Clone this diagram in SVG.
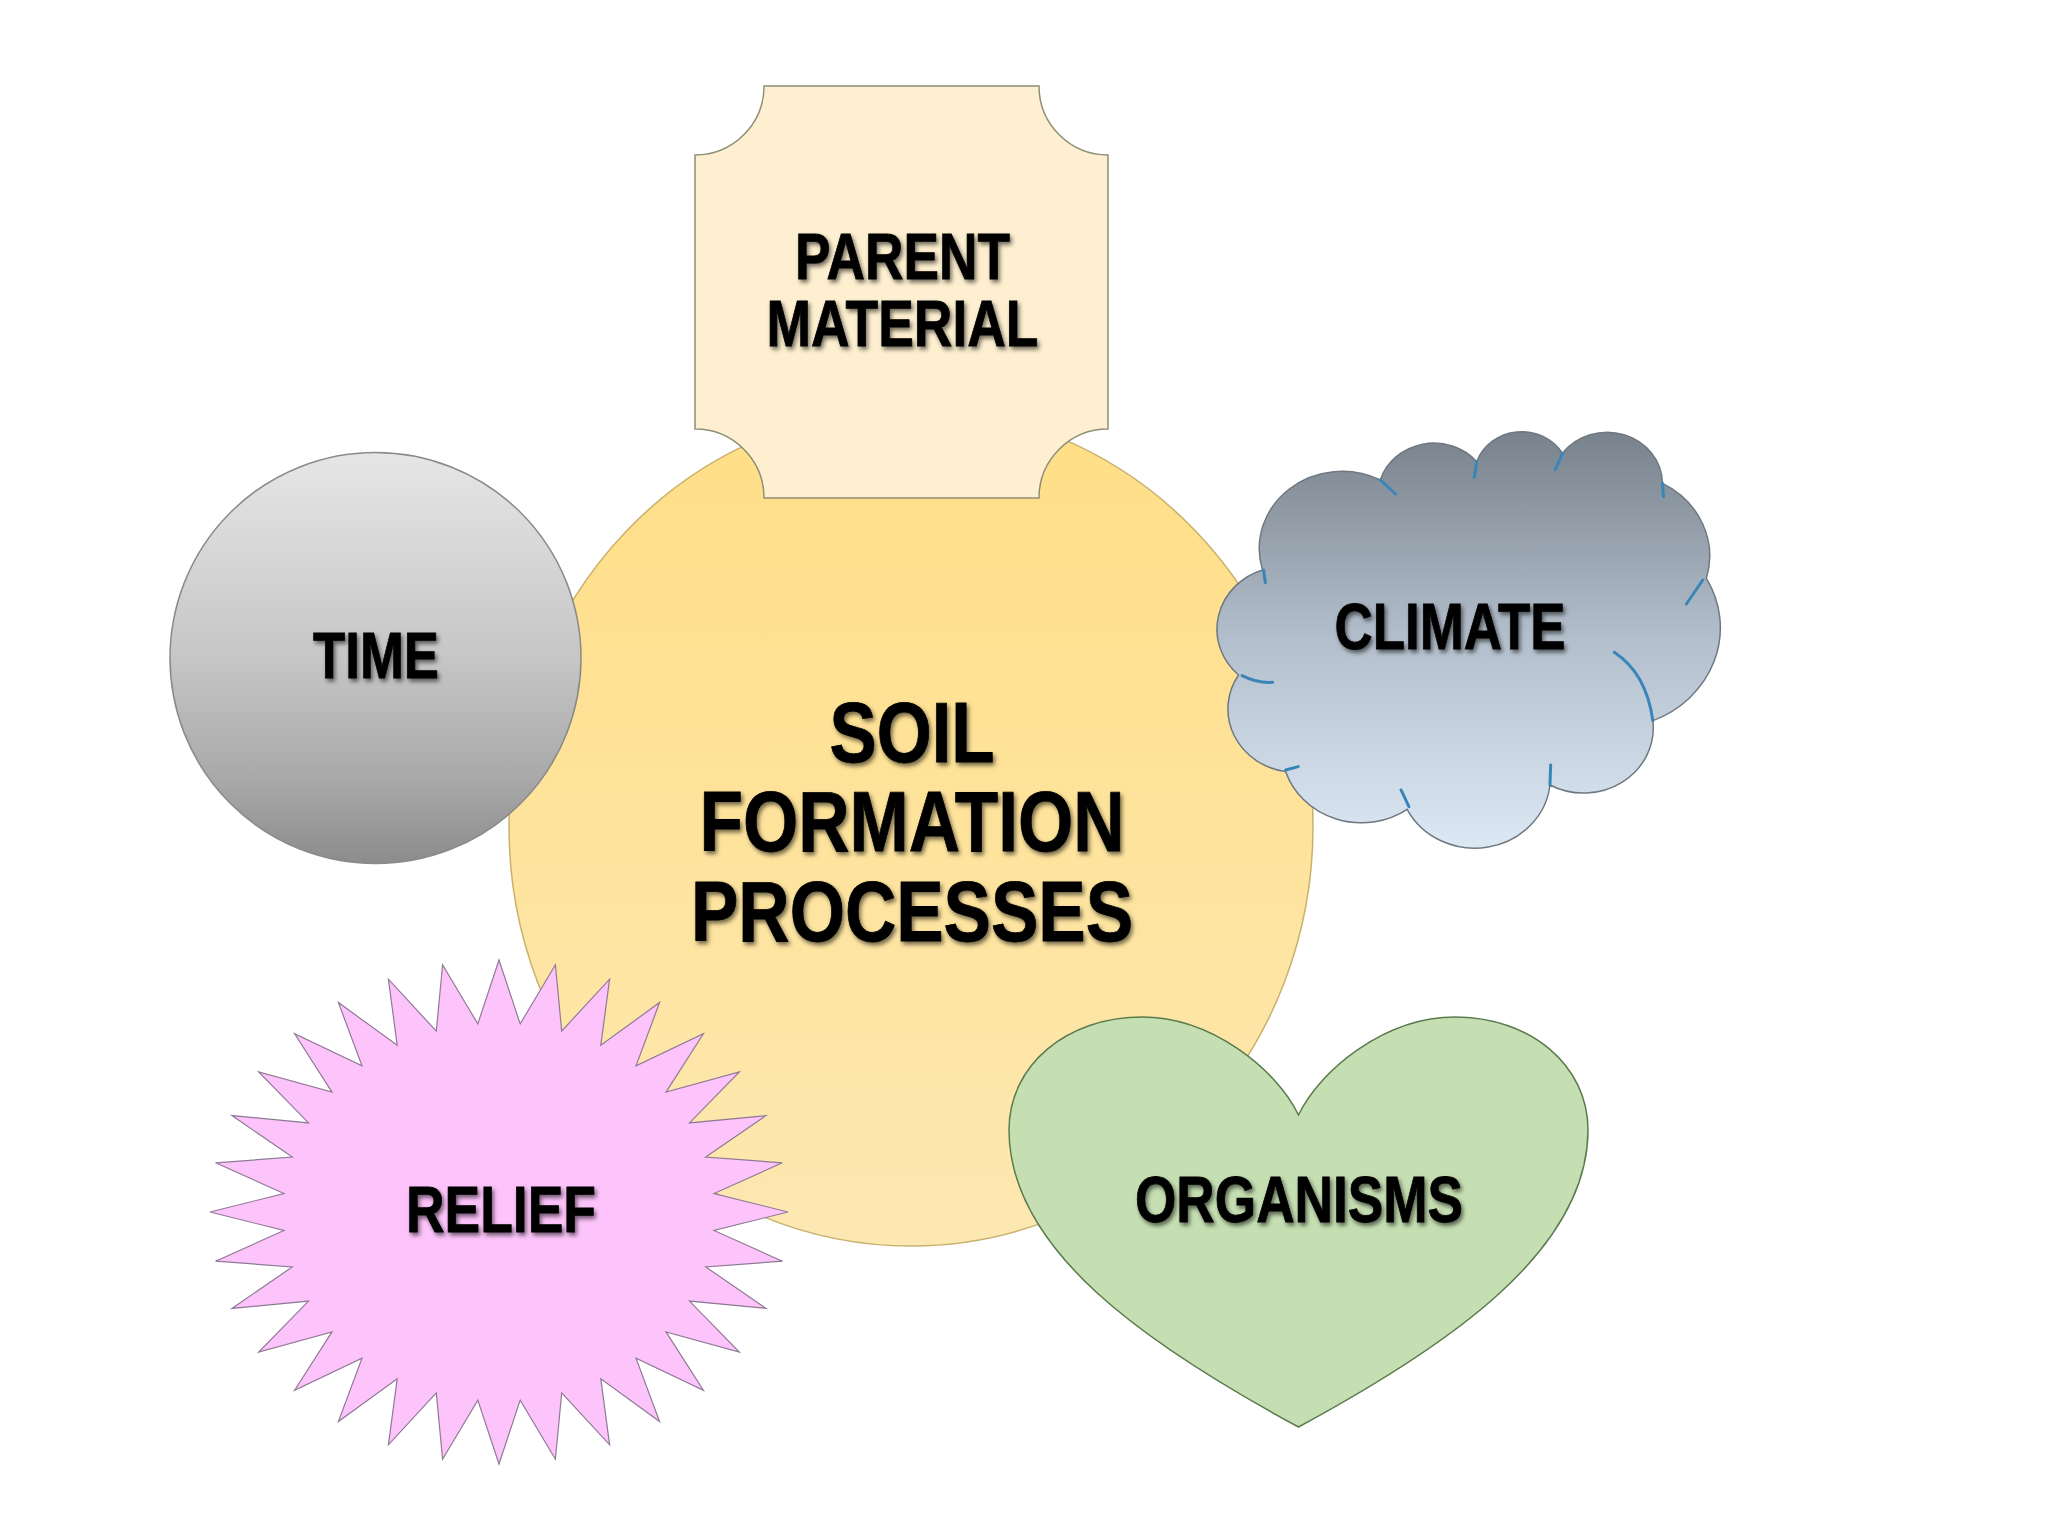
<svg xmlns="http://www.w3.org/2000/svg" width="2048" height="1536" viewBox="0 0 2048 1536">
<style>
text{font-family:"Liberation Sans",Arial,sans-serif;font-weight:700;fill:#000;stroke:#000;stroke-width:.8;text-anchor:middle;filter:url(#sh)}
.s{font-size:65px}
.b{font-size:86px}
.fold{fill:none;stroke:#3a85b8;stroke-width:3;stroke-linecap:round;vector-effect:non-scaling-stroke}
</style>
<defs>
<filter id="sh" x="-10%" y="-20%" width="120%" height="150%"><feDropShadow dx="2" dy="3" stdDeviation="2" flood-color="#000" flood-opacity=".55"/></filter>
<linearGradient id="gc" x1="0" y1="0" x2="0" y2="1"><stop offset="0" stop-color="#ffde85"/><stop offset="1" stop-color="#fde8b2"/></linearGradient>
<linearGradient id="gt" x1="0" y1="0" x2="0" y2="1"><stop offset="0" stop-color="#e6e6e6"/><stop offset=".5" stop-color="#c6c6c6"/><stop offset=".8" stop-color="#a8a8a8"/><stop offset="1" stop-color="#8c8c8c"/></linearGradient>
<linearGradient id="gk" x1="0" y1="0" x2="0" y2="1"><stop offset="0" stop-color="#78828c"/><stop offset=".5" stop-color="#b3bfcc"/><stop offset="1" stop-color="#dce9f5"/></linearGradient>
</defs>
<rect width="2048" height="1536" fill="#fff"/>
<g id="connectors"/>
<g id="soil-formation">
<ellipse cx="911" cy="827" rx="402" ry="419" fill="url(#gc)" stroke="#c9b06c" stroke-width="1.5"/>
<text class="b" x="912" y="762" textLength="165" lengthAdjust="spacingAndGlyphs">SOIL</text>
<text class="b" x="912" y="851" textLength="425" lengthAdjust="spacingAndGlyphs">FORMATION</text>
<text class="b" x="912" y="941" textLength="442" lengthAdjust="spacingAndGlyphs">PROCESSES</text>
</g>
<g id="parent-material">
<path d="M764 86H1039A69 69 0 0 0 1108 155V429A69 69 0 0 0 1039 498H764A69 69 0 0 0 695 429V155A69 69 0 0 0 764 86Z" fill="#fdefcf" stroke="#8f8f78" stroke-width="1.5"/>
<text class="s" x="902.5" y="279" textLength="215" lengthAdjust="spacingAndGlyphs">PARENT</text>
<text class="s" x="902.5" y="346" textLength="272" lengthAdjust="spacingAndGlyphs">MATERIAL</text>
</g>
<g id="time">
<circle cx="375.5" cy="658" r="205.5" fill="url(#gt)" stroke="#8a8a8a" stroke-width="1.5"/>
<text class="s" x="376" y="678" textLength="126" lengthAdjust="spacingAndGlyphs">TIME</text>
</g>
<g id="climate">
<g transform="translate(1200 400) scale(.3571 .3333)">
<path d="M175 510A232 232 0 0 1 505 240A157 157 0 0 1 775 185A133 133 0 0 1 1015 160A155 155 0 0 1 1295 250A246 246 0 0 1 1418 535A300 300 0 0 1 1268 962A195 195 0 0 1 980 1155A212 212 0 0 1 580 1228A223 223 0 0 1 240 1115A190 190 0 0 1 108 825A187 187 0 0 1 175 510Z" fill="url(#gk)" stroke="#6f7880" stroke-width="1.5" vector-effect="non-scaling-stroke"/>
<path class="fold" d="M505 240L548 282M775 185L768 232M1015 160L995 208M1295 250L1298 290M1408 540L1362 612M1160 757Q1250 820 1268 962M982 1095L980 1155M563 1170L585 1220M240 1110L275 1100M118 827Q160 850 203 847M178 510L183 548"/>
</g>
<text class="s" x="1450" y="649" textLength="231" lengthAdjust="spacingAndGlyphs">CLIMATE</text>
</g>
<g id="relief">
<path d="M499 960L520.2 1023.9L555.4 964.8L561.7 1031.1L609.6 979.2L600.8 1045.3L659.6 1002.5L636 1065.9L703.4 1033.8L666 1092.1L739.3 1072L689.5 1122.9L766 1115.6L705.7 1157.1L782.4 1162.8L714 1193.5L788 1212L714 1230.5L782.4 1261.2L705.7 1266.9L766 1308.4L689.5 1301.1L739.3 1352L666 1331.9L703.4 1390.2L636 1358.1L659.6 1421.5L600.8 1378.7L609.6 1444.8L561.7 1392.9L555.4 1459.2L520.2 1400.1L499 1464L477.8 1400.1L442.6 1459.2L436.3 1392.9L388.4 1444.8L397.2 1378.7L338.4 1421.5L362 1358.1L294.6 1390.2L332 1331.9L258.7 1352L308.5 1301.1L232 1308.4L292.3 1266.9L215.6 1261.2L284 1230.5L210 1212L284 1193.5L215.6 1162.8L292.3 1157.1L232 1115.6L308.5 1122.9L258.7 1072L332 1092.1L294.6 1033.8L362 1065.9L338.4 1002.5L397.2 1045.3L388.4 979.2L436.3 1031.1L442.6 964.8L477.8 1023.9Z" fill="#fdc4fb" stroke="#8f7a96" stroke-width="1.2"/>
<text class="s" x="501" y="1232" textLength="190" lengthAdjust="spacingAndGlyphs">RELIEF</text>
</g>
<g id="organisms">
<path d="M1298.5 1115C1320 1070 1385 1017 1455 1017C1530 1017 1588 1065 1588 1130C1588 1250 1450 1345 1298.5 1427C1147 1345 1009 1250 1009 1130C1009 1065 1067 1017 1142 1017C1212 1017 1277 1070 1298.5 1115Z" fill="#c5dfb2" stroke="#5b7a4c" stroke-width="1.5"/>
<text class="s" x="1299" y="1222" textLength="328" lengthAdjust="spacingAndGlyphs">ORGANISMS</text>
</g>
</svg>
